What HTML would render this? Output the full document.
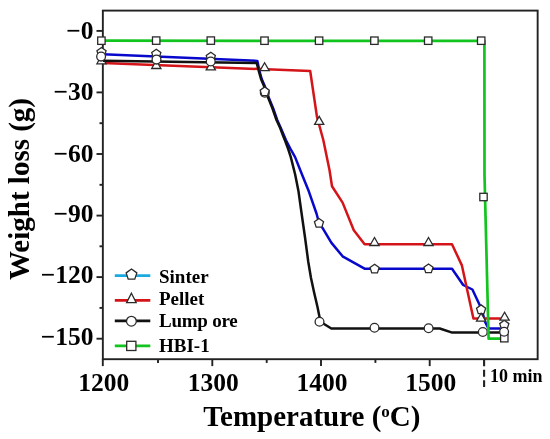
<!DOCTYPE html>
<html><head><meta charset="utf-8"><style>
html,body{margin:0;padding:0;background:#fff;width:550px;height:439px;overflow:hidden}
svg{display:block}
.t{font-family:"Liberation Serif","Times New Roman",serif;font-weight:bold;fill:#000}
</style></head><body>
<svg width="550" height="439" viewBox="0 0 550 439">
<rect width="550" height="439" fill="#fff"/>
<g stroke="#222" stroke-width="1.9" fill="none">
<rect x="102.85" y="10.6" width="434.8" height="348.6"/>
<line x1="96.5" y1="30.9" x2="103" y2="30.9"/>
<line x1="96.5" y1="92.4" x2="103" y2="92.4"/>
<line x1="96.5" y1="154.0" x2="103" y2="154.0"/>
<line x1="96.5" y1="215.6" x2="103" y2="215.6"/>
<line x1="96.5" y1="277.1" x2="103" y2="277.1"/>
<line x1="96.5" y1="338.7" x2="103" y2="338.7"/>
<line x1="99.5" y1="61.6" x2="103" y2="61.6"/>
<line x1="99.5" y1="123.2" x2="103" y2="123.2"/>
<line x1="99.5" y1="184.8" x2="103" y2="184.8"/>
<line x1="99.5" y1="246.3" x2="103" y2="246.3"/>
<line x1="99.5" y1="307.9" x2="103" y2="307.9"/>
<line x1="102.8" y1="359" x2="102.8" y2="366.1"/>
<line x1="212.3" y1="359" x2="212.3" y2="366.1"/>
<line x1="321.0" y1="359" x2="321.0" y2="366.1"/>
<line x1="429.7" y1="359" x2="429.7" y2="366.1"/>
<line x1="158.0" y1="359" x2="158.0" y2="362.9"/>
<line x1="266.7" y1="359" x2="266.7" y2="362.9"/>
<line x1="375.4" y1="359" x2="375.4" y2="362.9"/>
<line x1="484.1" y1="359.3" x2="484.1" y2="387" stroke-dasharray="7,3.5" stroke-width="2.1"/>
</g>
<polyline points="103.0,54.3 257.4,60.9 259.2,70.0 261.7,79.0 264.7,86.0 268.7,97.4 273.2,108.5 277.2,120.0 281.0,128.5 285.9,140.0 290.3,148.5 295.1,157.1 301.9,174.2 308.8,191.3 316.5,213.5 319.2,223.5 323.1,228.8 331.3,242.6 342.6,256.3 365.0,268.8 452.0,268.8 463.2,285.0 472.4,289.5 481.3,308.5 485.1,321.9 487.8,327.2 489.5,328.4 500.8,328.4" fill="none" stroke="#0808cc" stroke-width="2.5" stroke-linejoin="round" stroke-linecap="butt"/>
<g fill="#fff" stroke="#2b2b2b" stroke-width="1.3"><polygon points="101.50,47.50 106.07,50.82 104.32,56.18 98.68,56.18 96.93,50.82"/><polygon points="156.30,49.20 160.87,52.52 159.12,57.88 153.48,57.88 151.73,52.52"/><polygon points="210.80,52.20 215.37,55.52 213.62,60.88 207.98,60.88 206.23,55.52"/><polygon points="319.00,218.50 323.57,221.82 321.82,227.18 316.18,227.18 314.43,221.82"/><polygon points="374.60,264.20 379.17,267.52 377.42,272.88 371.78,272.88 370.03,267.52"/><polygon points="428.50,264.00 433.07,267.32 431.32,272.68 425.68,272.68 423.93,267.32"/><polygon points="481.10,304.90 485.67,308.22 483.92,313.58 478.28,313.58 476.53,308.22"/><polygon points="504.30,320.30 508.87,323.62 507.12,328.98 501.48,328.98 499.73,323.62"/></g>
<polyline points="103.0,63.0 310.2,71.0 317.0,117.0 323.3,140.0 329.5,170.0 332.0,186.3 342.6,202.6 353.8,230.2 364.6,244.3 452.0,244.3 461.9,265.4 473.4,318.4 500.8,318.4" fill="none" stroke="#d41418" stroke-width="2.5" stroke-linejoin="round" stroke-linecap="butt"/>
<g fill="#fff" stroke="#2b2b2b" stroke-width="1.3"><polygon points="101.50,55.80 106.10,63.80 96.90,63.80"/><polygon points="156.30,60.50 160.90,68.50 151.70,68.50"/><polygon points="210.80,61.90 215.40,69.90 206.20,69.90"/><polygon points="264.60,62.70 269.20,70.70 260.00,70.70"/><polygon points="319.20,116.40 323.80,124.40 314.60,124.40"/><polygon points="374.50,237.50 379.10,245.50 369.90,245.50"/><polygon points="428.50,237.50 433.10,245.50 423.90,245.50"/><polygon points="481.10,313.20 485.70,321.20 476.50,321.20"/><polygon points="504.60,312.20 509.20,320.20 500.00,320.20"/></g>
<polyline points="103.0,60.7 256.8,63.1 258.5,70.0 261.0,79.0 264.0,86.0 268.0,97.4 272.5,108.5 276.5,120.0 280.2,128.0 283.2,136.0 285.6,142.0 288.2,149.0 290.8,157.1 295.1,174.2 298.5,191.3 301.6,213.5 305.0,237.3 308.3,262.0 311.0,278.0 314.0,292.0 317.5,307.0 319.5,317.0 320.0,321.5 331.3,328.5 439.8,328.5 452.2,332.6 500.8,332.6" fill="none" stroke="#111" stroke-width="2.5" stroke-linejoin="round" stroke-linecap="butt"/>
<g fill="#fff" stroke="#2b2b2b" stroke-width="1.3"><circle cx="101.10" cy="56.60" r="4.4"/><circle cx="156.50" cy="59.60" r="4.4"/><circle cx="210.70" cy="61.50" r="4.4"/><circle cx="264.80" cy="92.80" r="4.4"/><circle cx="319.50" cy="321.80" r="4.4"/><circle cx="374.50" cy="327.80" r="4.4"/><circle cx="428.60" cy="328.20" r="4.4"/><circle cx="482.80" cy="332.00" r="4.4"/></g>
<polyline points="103.0,40.7 484.4,40.9 484.5,175.0 488.6,338.6 500.8,338.6" fill="none" stroke="#12c41e" stroke-width="2.7" stroke-linejoin="round" stroke-linecap="butt"/>
<g fill="#fff" stroke="#2b2b2b" stroke-width="1.3"><rect x="97.70" y="37.00" width="7.4" height="7.4"/><rect x="152.50" y="36.90" width="7.4" height="7.4"/><rect x="207.10" y="36.90" width="7.4" height="7.4"/><rect x="260.80" y="37.00" width="7.4" height="7.4"/><rect x="315.40" y="37.00" width="7.4" height="7.4"/><rect x="370.70" y="37.00" width="7.4" height="7.4"/><rect x="424.50" y="37.00" width="7.4" height="7.4"/><rect x="477.50" y="37.00" width="7.4" height="7.4"/><rect x="479.80" y="193.30" width="7.4" height="7.4"/><rect x="500.60" y="334.50" width="7.4" height="7.4"/><circle cx="504.10" cy="331.80" r="4.4"/><polygon points="264.70,86.90 269.27,90.22 267.52,95.58 261.88,95.58 260.13,90.22"/></g>
<line x1="114.8" y1="275.7" x2="150.3" y2="275.7" stroke="#1aaae0" stroke-width="2.8"/>
<text x="159" y="282.7" class="t" font-size="19">Sinter</text>
<line x1="114.8" y1="300.4" x2="150.3" y2="300.4" stroke="#d41418" stroke-width="2.8"/>
<text x="159" y="305.4" class="t" font-size="19">Pellet</text>
<line x1="114.8" y1="320.9" x2="150.3" y2="320.9" stroke="#111" stroke-width="2.8"/>
<text x="159" y="327.1" class="t" font-size="19" letter-spacing="-0.25">Lump ore</text>
<line x1="114.8" y1="345.8" x2="150.3" y2="345.8" stroke="#12c41e" stroke-width="2.8"/>
<text x="159" y="351.5" class="t" font-size="19">HBI-1</text>
<g fill="#fff" stroke="#2b2b2b" stroke-width="1.3"><polygon points="131.50,269.00 136.83,272.87 134.79,279.13 128.21,279.13 126.17,272.87"/><polygon points="131.40,293.20 136.20,302.70 126.60,302.70"/><circle cx="131.40" cy="321.20" r="4.9"/><rect x="126.70" y="341.30" width="9.2" height="9.2"/></g>
<text x="93.5" y="39.0" class="t" font-size="25.5" text-anchor="end">−0</text>
<text x="93.5" y="100.3" class="t" font-size="25.5" text-anchor="end">−30</text>
<text x="93.5" y="161.6" class="t" font-size="25.5" text-anchor="end">−60</text>
<text x="93.5" y="221.6" class="t" font-size="25.5" text-anchor="end">−90</text>
<text x="93.5" y="283.4" class="t" font-size="25.5" text-anchor="end">−120</text>
<text x="93.5" y="344.75" class="t" font-size="25.5" text-anchor="end">−150</text>
<text x="103.8" y="391.3" class="t" font-size="25.5" text-anchor="middle">1200</text>
<text x="213.3" y="391.3" class="t" font-size="25.5" text-anchor="middle">1300</text>
<text x="322.0" y="391.3" class="t" font-size="25.5" text-anchor="middle">1400</text>
<text x="430.7" y="391.3" class="t" font-size="25.5" text-anchor="middle">1500</text>
<text x="490" y="381.7" class="t" font-size="18">10 min</text>
<text x="311.9" y="425.8" class="t" font-size="29" text-anchor="middle">Temperature (<tspan font-size="17" dy="-8.5">o</tspan><tspan dy="8.5">C)</tspan></text>
<text transform="translate(29.2,189) rotate(-90)" x="0" y="0" class="t" font-size="29" text-anchor="middle">Weight loss (g)</text>
</svg>
</body></html>
